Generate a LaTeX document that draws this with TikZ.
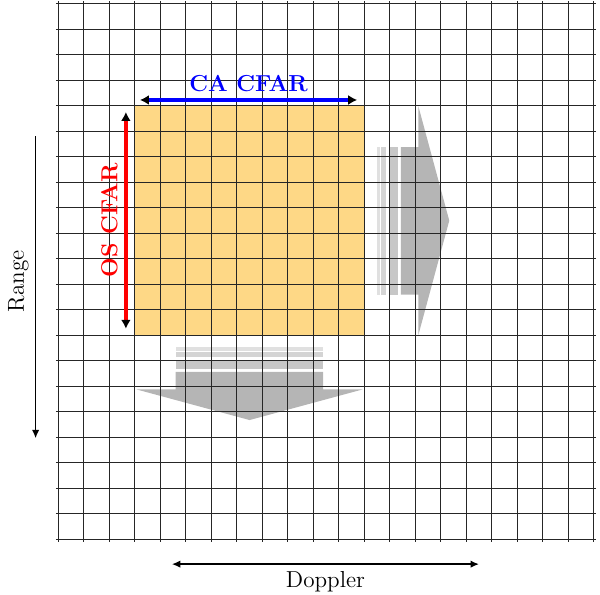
\documentclass[tikz,border=0pt]{standalone}
\usepackage{tikz}
\usetikzlibrary{arrows.meta}
\usetikzlibrary{positioning}
\definecolor{cellorange}{RGB}{254, 216, 134}
\tikzset{gridline/.style = {line width = 0.6pt, black!85}}
\tikzset{cfar/.style = {line width = 2.5pt, >={Latex[black, length = 5pt, width = 5.5pt]}, <->}}
\tikzset{axisarrow/.style = {line width = 1pt, >={Latex[length = 4.8pt, width = 4.2pt]}}}
\tikzset{lbl/.style = {font = \fontsize{12.9}{15}\selectfont}}
\tikzset{stripeA/.style = {black!12}, stripeB/.style = {black!17}, stripeC/.style = {black!22}}
\tikzset{slidegray/.style = {black!29}}

\begin{document}
\begin{tikzpicture}[x = 0.5cm, y = 0.5cm]
    \useasboundingbox (-2.286, -2.145) rectangle (21.24, 21.15);

    \fill [cellorange] (3, 8) rectangle (12, 17);

    \begin{scope}
      \fill [stripeA] (12.48, 9.6) rectangle (12.62, 15.38);
      \fill [stripeB] (12.66, 9.6) rectangle (12.85, 15.38);
      \fill [stripeC] (12.98, 9.6) rectangle (13.33, 15.38);
      \fill [slidegray] (13.43, 9.6) -- (14.12, 9.6) -- (14.12, 8.02) -- (15.33, 12.5)
        -- (14.12, 16.98) -- (14.12, 15.38) -- (13.43, 15.38) -- cycle;
    \end{scope}
    \begin{scope}
      \fill [stripeA] (4.6, 7.4) rectangle (10.38, 7.53);
      \fill [stripeB] (4.6, 7.14) rectangle (10.38, 7.35);
      \fill [stripeC] (4.6, 6.67) rectangle (10.38, 6.99);
      \fill [slidegray] (4.6, 6.57) -- (4.6, 5.88) -- (3.07, 5.88) -- (7.5, 4.68)
        -- (11.93, 5.88) -- (10.38, 5.88) -- (10.38, 6.57) -- cycle;
    \end{scope}

    \draw [gridline, step = 0.5cm] (-0.1, -0.1) grid (21.1, 21.1);

    \coordinate (caleft) at (3.2, 17.23);
    \coordinate (caright) at (11.72, 17.23);
    \coordinate (osbottom) at (2.65, 8.26);
    \coordinate (ostop) at (2.65, 16.76);
    \coordinate (rangebottom) at (-0.89, 3.96);
    \coordinate (rangetop) at (-0.89, 15.81);
    \coordinate (dopplerleft) at (4.45, -0.97);
    \coordinate (dopplerright) at (16.5, -0.97);

    \draw [cfar, blue] (caleft) -- (caright)
      node [midway, above, lbl] (calabel) {\textbf{CA CFAR}};
    \draw [cfar, red] (osbottom) -- (ostop)
      node [midway, above, sloped, lbl] (oslabel) {\textbf{OS CFAR}};
    \draw [axisarrow, <-] (rangebottom) -- (rangetop)
      node [pos = 0.52, above, sloped, lbl] (rangelabel) {Range};
    \draw [axisarrow, <->] (dopplerleft) -- (dopplerright)
      node [midway, below, lbl] (dopplerlabel) {Doppler};
  \end{tikzpicture}
\end{document}
